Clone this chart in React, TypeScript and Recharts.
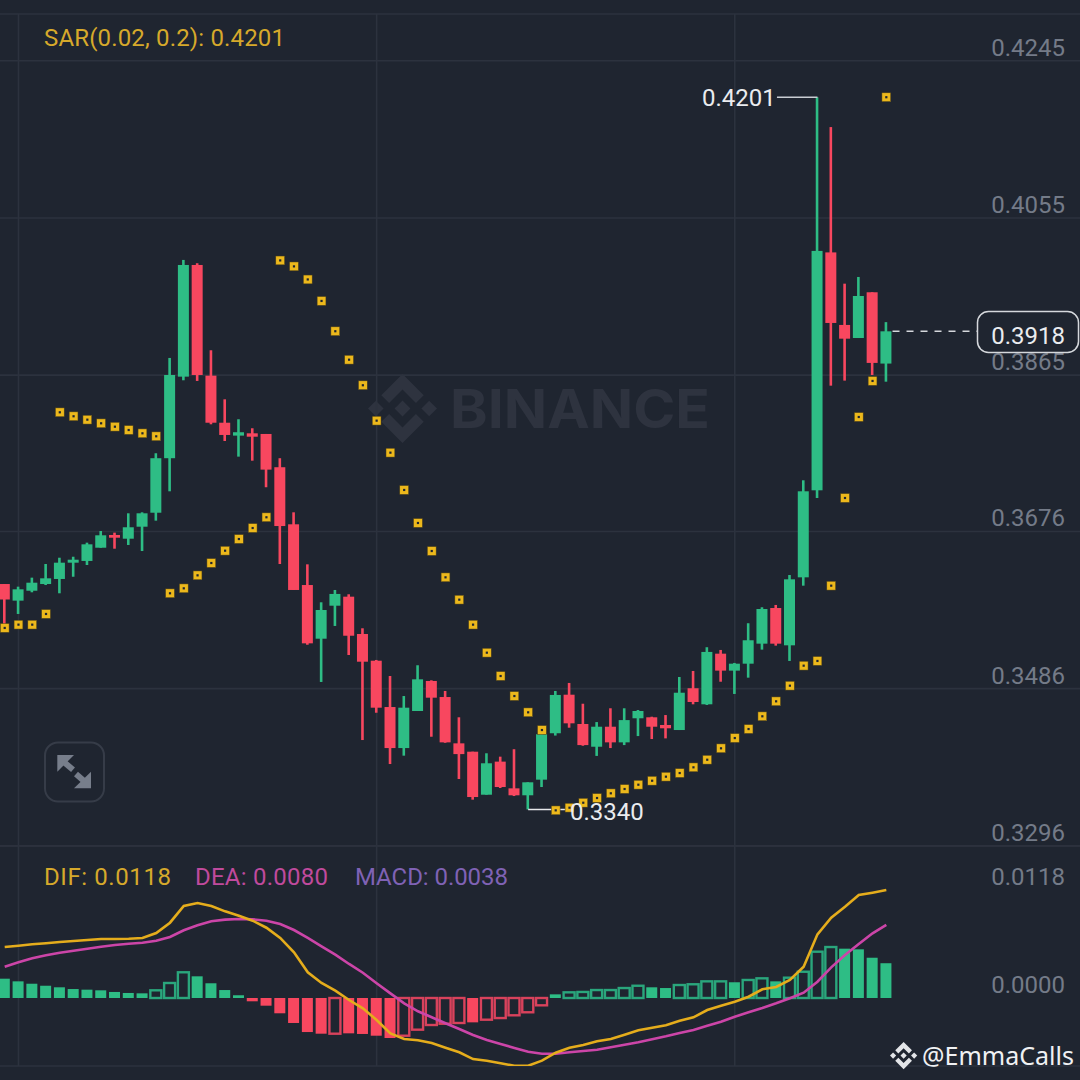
import React from "react";
import {
  Bar,
  CartesianGrid,
  ComposedChart,
  Line,
  ReferenceLine,
  XAxis,
  YAxis,
} from "recharts";

const opens = [
  0.36125, 0.35924, 0.36044, 0.36125, 0.36186, 0.36383, 0.36404, 0.36564, 0.36718, 0.36673,
  0.36818, 0.36987, 0.37646, 0.38632, 0.39982, 0.38644, 0.38075, 0.37919, 0.37947, 0.37939,
  0.37537, 0.36847, 0.36113, 0.35464, 0.35863, 0.35972, 0.35521, 0.35198, 0.34638, 0.34142,
  0.3459, 0.34953, 0.34759, 0.34199, 0.34098, 0.33578, 0.33978, 0.33655, 0.33571, 0.3376,
  0.34321, 0.34787, 0.34433, 0.34158, 0.344, 0.34211, 0.34502, 0.34514, 0.34421, 0.3436,
  0.34865, 0.34671, 0.35283, 0.35078, 0.35162, 0.35404, 0.35835, 0.35384, 0.36206, 0.37258,
  0.40134, 0.39257, 0.39099, 0.39652, 0.3879,
];
const highs = [
  0.36125, 0.36093, 0.36202, 0.36367, 0.36443, 0.36455, 0.36625, 0.36766, 0.36746, 0.3698,
  0.36992, 0.37706, 0.38858, 0.40043, 0.40003, 0.38951, 0.38358, 0.38117, 0.38008, 0.37939,
  0.37646, 0.36992, 0.36363, 0.35904, 0.36053, 0.36001, 0.3559, 0.35207, 0.35013, 0.34771,
  0.35143, 0.34961, 0.34832, 0.34514, 0.34098, 0.34079, 0.34038, 0.34128, 0.33728, 0.34319,
  0.34832, 0.34929, 0.34678, 0.34456, 0.34623, 0.34623, 0.34602, 0.34521, 0.34541, 0.35001,
  0.35074, 0.35361, 0.35328, 0.35171, 0.35651, 0.35844, 0.35872, 0.36234, 0.37379, 0.4201,
  0.41649, 0.39756, 0.39837, 0.39652, 0.39291,
];
const lows = [
  0.35618, 0.35763, 0.36025, 0.36113, 0.36013, 0.36213, 0.36355, 0.36564, 0.36552, 0.36597,
  0.36524, 0.36891, 0.37246, 0.38588, 0.3858, 0.38056, 0.37854, 0.37665, 0.37616, 0.37295,
  0.36367, 0.36053, 0.35391, 0.34941, 0.35618, 0.35267, 0.34239, 0.34569, 0.33949, 0.3405,
  0.3459, 0.34279, 0.34206, 0.33768, 0.33518, 0.33578, 0.33659, 0.33562, 0.334, 0.33671,
  0.34293, 0.34388, 0.3417, 0.34047, 0.34142, 0.34178, 0.34287, 0.34251, 0.34259, 0.3436,
  0.34671, 0.34663, 0.34944, 0.34796, 0.34993, 0.35332, 0.3538, 0.35195, 0.36105, 0.37165,
  0.38523, 0.38584, 0.39099, 0.38652, 0.38571,
];
const closes = [
  0.35938, 0.36061, 0.36141, 0.36194, 0.36383, 0.36419, 0.36605, 0.36714, 0.36685, 0.36811,
  0.3698, 0.37646, 0.38652, 0.39982, 0.38652, 0.38075, 0.37927, 0.3796, 0.37906, 0.37508,
  0.36826, 0.36053, 0.35408, 0.35811, 0.36005, 0.355, 0.35186, 0.3463, 0.34142, 0.3463,
  0.34973, 0.34751, 0.34211, 0.34069, 0.3355, 0.33958, 0.33671, 0.33571, 0.33728, 0.34309,
  0.34784, 0.34441, 0.34178, 0.344, 0.34211, 0.3448, 0.3459, 0.344, 0.34381, 0.34811,
  0.34699, 0.35304, 0.35078, 0.35162, 0.35445, 0.35823, 0.35404, 0.36182, 0.37246, 0.40152,
  0.39281, 0.39091, 0.39607, 0.38798, 0.3918,
];
const sar = [
  0.35594, 0.35634, 0.35634, 0.35763, 0.38201, 0.38153, 0.38112, 0.38068, 0.38027, 0.37987,
  0.37947, 0.37911, 0.36013, 0.36073, 0.3623, 0.36379, 0.36528, 0.36669, 0.36802, 0.36932,
  0.40037, 0.39965, 0.39807, 0.39547, 0.39181, 0.38837, 0.38528, 0.381, 0.37713, 0.37262,
  0.36863, 0.36524, 0.36206, 0.35936, 0.35634, 0.35295, 0.35013, 0.34771, 0.34574, 0.3436,
  0.33389, 0.33421, 0.33481, 0.33538, 0.33595, 0.33647, 0.33699, 0.33747, 0.33796, 0.3384,
  0.33909, 0.34001, 0.34139, 0.34263, 0.34372, 0.34526, 0.34707, 0.34896, 0.35138, 0.35195,
  0.36105, 0.37165, 0.38144, 0.3858, 0.4201,
];
const dif = [
  0.00557, 0.00571, 0.00587, 0.00598, 0.00612, 0.00623, 0.00634, 0.00645, 0.00645, 0.00648,
  0.00656, 0.0071, 0.00823, 0.01005, 0.01038, 0.01005, 0.00947, 0.00899, 0.00845, 0.00768,
  0.00656, 0.00499, 0.00281, 0.00164, 0.0008, -0.00022, -0.00113, -0.0024, -0.00386, -0.00448,
  -0.00462, -0.00492, -0.00543, -0.00593, -0.00667, -0.00685, -0.00714, -0.0074, -0.0074, -0.00685,
  -0.00598, -0.00543, -0.00514, -0.00473, -0.00448, -0.00401, -0.00353, -0.00325, -0.00298, -0.00248,
  -0.00211, -0.00131, -0.00084, -0.0004, 0.00014, 0.00095, 0.0012, 0.00197, 0.00342, 0.00696,
  0.00877, 0.00998, 0.01125, 0.01151, 0.0118,
];
const dea = [
  0.00342, 0.0039, 0.00434, 0.00467, 0.00495, 0.00517, 0.00539, 0.00561, 0.00579, 0.00593,
  0.00604, 0.00626, 0.00667, 0.0074, 0.00794, 0.00838, 0.00856, 0.00863, 0.0086, 0.00845,
  0.00809, 0.00743, 0.00656, 0.00565, 0.00473, 0.00372, 0.00276, 0.00161, 0.00051, -0.00058,
  -0.00145, -0.00211, -0.00276, -0.00339, -0.00404, -0.00459, -0.00503, -0.00546, -0.00587, -0.00609,
  -0.00609, -0.00593, -0.00579, -0.00565, -0.00539, -0.0051, -0.00484, -0.00451, -0.00419, -0.00382,
  -0.0035, -0.00303, -0.00259, -0.00204, -0.00156, -0.00109, -0.00058, -0.00003, 0.00058, 0.00178,
  0.00335, 0.0047, 0.0059, 0.00707, 0.008,
];
const macd = [
  0.00211, 0.00182, 0.00156, 0.00134, 0.00117, 0.00098, 0.00091, 0.00084, 0.00066, 0.00055,
  0.00051, 0.00084, 0.00164, 0.00281, 0.00237, 0.00161, 0.00087, 0.0003, -0.00036, -0.00084,
  -0.00167, -0.00273, -0.00372, -0.0039, -0.0039, -0.00386, -0.00393, -0.00412, -0.00437, -0.00412,
  -0.00346, -0.00295, -0.00281, -0.00273, -0.00266, -0.00237, -0.00219, -0.00189, -0.00156, -0.0008,
  0.0004, 0.00062, 0.00066, 0.00087, 0.00087, 0.00109, 0.00134, 0.00117, 0.00109, 0.00142,
  0.0015, 0.00182, 0.00182, 0.00172, 0.00197, 0.00215, 0.00182, 0.00222, 0.00287, 0.00506,
  0.00557, 0.00539, 0.00532, 0.0044, 0.0038,
];
// bars the exchange draws as outlines
const hollowBars = [
  11, 12, 13, 24, 29, 30, 31, 32, 33, 35, 36, 37, 38, 39, 41, 42, 43, 44, 45, 46, 49, 50, 51, 52,
  54, 55, 57, 58, 59, 60,
];

const priceTicks = [0.4245, 0.4055, 0.3865, 0.3676, 0.3486, 0.3296];
const macdTicks = [0.0118, 0];
const timeTicks = [1, 27, 53];
const lastPrice = 0.3918;
const highPrice = 0.4201;
const lowPrice = 0.334;

const BG = "#1f2530";
const GRID = "#2c323e";
const UP = "#2ebd85";
const DOWN = "#f8475f";
const FONT = "Roboto, sans-serif";

const X_DOMAIN: [number, number] = [-0.341, 78.06];
const PRICE_DOMAIN: [number, number] = [0.32958, 0.43016];
const MACD_DOMAIN: [number, number] = [-0.00743, 0.01661];

const priceData = opens.map((open, i) => ({
  idx: i,
  open,
  high: highs[i],
  low: lows[i],
  close: closes[i],
  sar: sar[i],
}));
const macdData = macd.map((value, i) => ({
  idx: i,
  macd: value,
  dif: dif[i],
  dea: dea[i],
  hollow: hollowBars.includes(i),
}));

function Candle(props: any) {
  const { x, y, width, height, payload } = props;
  const color = payload.close >= payload.open ? UP : DOWN;
  const perUnit = height / (payload.high - payload.low);
  const yOpen = y + (payload.high - payload.open) * perUnit;
  const yClose = y + (payload.high - payload.close) * perUnit;
  const top = Math.min(yOpen, yClose);
  const bodyH = Math.max(Math.abs(yOpen - yClose), 1);
  const mid = x + width / 2;
  return (
    <g>
      <rect x={mid - 1.3} y={y} width={2.6} height={height} fill={color} />
      <rect x={x} y={top} width={width} height={bodyH} fill={color} />
    </g>
  );
}

function MacdBar(props: any) {
  const { x, y, width, height, payload } = props;
  const top = Math.min(y, y + height);
  const h = Math.abs(height);
  const color = payload.macd >= 0 ? UP : DOWN;
  if (payload.hollow) {
    return (
      <rect
        x={x}
        y={top}
        width={width}
        height={h}
        fill={BG}
        stroke={payload.macd >= 0 ? "#2aa67c" : "#d8425c"}
        strokeWidth={2.4}
      />
    );
  }
  return <rect x={x} y={top} width={width} height={h} fill={color} />;
}

function SarDot(props: any) {
  const { cx, cy, index } = props;
  return (
    <g key={index}>
      <rect x={cx - 4.4} y={cy - 4.4} width={8.8} height={8.8} fill="#ecb81c" stroke="#4a3f1a" strokeWidth={0.5} />
      <rect x={cx - 1.1} y={cy - 1.1} width={2.2} height={2.2} fill={BG} />
    </g>
  );
}

function AxisTick(props: any) {
  const { y, payload } = props;
  return (
    <text
      x={1065}
      y={y - 13}
      textAnchor="end"
      dominantBaseline="central"
      fontFamily={FONT}
      fontSize={24}
      fill="#747b88"
    >
      {payload.value.toFixed(4)}
    </text>
  );
}

function BinanceLogo({ x, y, scale, fill }: { x: number; y: number; scale: number; fill: string }) {
  return (
    <g transform={`translate(${x} ${y}) scale(${scale})`} fill={fill}>
      <path d="M38.73 53.2l24.59-24.58 24.6 24.6 14.3-14.31L63.32 0 24.42 38.9l14.31 14.3z" />
      <path d="M0 63.31l14.3-14.31 14.31 14.31-14.31 14.3z" />
      <path d="M38.73 73.41l24.59 24.59 24.6-24.6 14.31 14.29-38.9 38.91-38.91-38.88-.02-.02 14.33-14.29z" />
      <path d="M97.99 63.31l14.3-14.31 14.32 14.31-14.31 14.3z" />
      <path d="M77.83 63.3L63.32 48.78 52.59 59.51l-1.24 1.23-2.54 2.54 14.51 14.5 14.51-14.47z" />
    </g>
  );
}

const layer: React.CSSProperties = { position: "absolute", left: 0 };

export default function App() {
  return (
    <div style={{ position: "absolute", left: 0, top: 0, width: 1080, height: 1080, background: BG, overflow: "hidden" }}>
      <svg width={1080} height={1080} style={{ ...layer, top: 0 }}>
        <BinanceLogo x={368} y={374} scale={0.545} fill="#2e333f" />
        <text x={450} y={428} fontFamily="Inter, sans-serif" fontWeight={700} fontSize={54} fill="#2e333f" textLength={260} lengthAdjust="spacingAndGlyphs">
          BINANCE
        </text>
      </svg>

      <div style={{ ...layer, top: 0 }}>
        <ComposedChart width={1080} height={860} data={priceData} margin={{ top: 14, right: 0, bottom: 14, left: 0 }}>
          <CartesianGrid stroke={GRID} strokeWidth={1.6} horizontalValues={[PRICE_DOMAIN[1], ...priceTicks]} verticalValues={timeTicks} />
          <XAxis dataKey="idx" type="number" domain={X_DOMAIN} ticks={timeTicks} hide allowDataOverflow />
          <YAxis
            orientation="right"
            mirror
            type="number"
            domain={PRICE_DOMAIN}
            ticks={priceTicks}
            interval={0}
            axisLine={false}
            tickLine={false}
            tick={AxisTick}
            allowDataOverflow
          />
          <Bar dataKey={(d: any) => [d.low, d.high]} barSize={11} shape={Candle} isAnimationActive={false} />
          <ReferenceLine segment={[{ x: 56.06, y: highPrice }, { x: 59, y: highPrice }]} stroke="#c9cdd3" strokeWidth={1.5} />
          <ReferenceLine segment={[{ x: 38, y: lowPrice }, { x: 40.8, y: lowPrice }]} stroke="#e6e8eb" strokeWidth={1.5} />
          <ReferenceLine segment={[{ x: 64.45, y: lastPrice }, { x: 70.8, y: lastPrice }]} stroke="#d5d8dc" strokeWidth={1.5} strokeDasharray="7 7" />
          <Line dataKey="sar" stroke="none" dot={SarDot} activeDot={false} isAnimationActive={false} />
        </ComposedChart>
      </div>

      <div style={{ ...layer, top: 840 }}>
        <ComposedChart width={1080} height={240} data={macdData} margin={{ top: 6, right: 0, bottom: 14, left: 0 }}>
          <CartesianGrid stroke={GRID} strokeWidth={1.6} horizontalValues={MACD_DOMAIN} verticalValues={timeTicks} />
          <XAxis dataKey="idx" type="number" domain={X_DOMAIN} ticks={timeTicks} hide allowDataOverflow />
          <YAxis
            orientation="right"
            mirror
            type="number"
            domain={MACD_DOMAIN}
            ticks={macdTicks}
            interval={0}
            axisLine={false}
            tickLine={false}
            tick={AxisTick}
            allowDataOverflow
          />
          <Bar dataKey="macd" barSize={11} shape={MacdBar} isAnimationActive={false} />
          <Line dataKey="dea" type="linear" stroke="#cc45a8" strokeWidth={2.6} dot={false} activeDot={false} isAnimationActive={false} />
          <Line dataKey="dif" type="linear" stroke="#e5ad1c" strokeWidth={2.6} dot={false} activeDot={false} isAnimationActive={false} />
        </ComposedChart>
      </div>

      <svg width={1080} height={1080} style={{ ...layer, top: 0, pointerEvents: "none" }} fontFamily={FONT} fontSize={24}>
        <text x={44} y={46} fill="#d6a92b" textLength={241}>SAR(0.02, 0.2): 0.4201</text>
        <text x={702} y={106} fill="#eaecef">0.4201</text>
        <text x={570} y={820} fill="#eaecef">0.3340</text>
        <rect x={977.5} y={311.5} width={101} height={41} rx={11} fill={BG} stroke="#d5d8dc" strokeWidth={1.5} />
        <text x={1065} y={344} textAnchor="end" fill="#eaecef">0.3918</text>
        <text x={44} y={885} fill="#d6a92b" textLength={127}>DIF: 0.0118</text>
        <text x={195} y={885} fill="#c04a9d" textLength={133}>DEA: 0.0080</text>
        <text x={355} y={885} fill="#7f62b5" textLength={153}>MACD: 0.0038</text>

        <rect x={45} y={742.5} width={59} height={59} rx={13} fill="none" stroke="#363c48" strokeWidth={2} />
        <g fill="#777e8b">
          <polygon points="57.3,755 74,755 57.3,771.7" />
          <polygon points="91,771.7 91,788.3 74,788.3" />
        </g>
        <g stroke="#777e8b" strokeWidth={6}>
          <line x1={65} y1={763} x2={73} y2={769.8} />
          <line x1={76} y1={774} x2={84} y2={781} />
        </g>

        <BinanceLogo x={890} y={1042} scale={0.215} fill="#e3e5e8" />
        <text x={922} y={1065} fontFamily="'Noto Sans', sans-serif" fontSize={25} fill="#f0f1f3">@EmmaCalls</text>
      </svg>
    </div>
  );
}
